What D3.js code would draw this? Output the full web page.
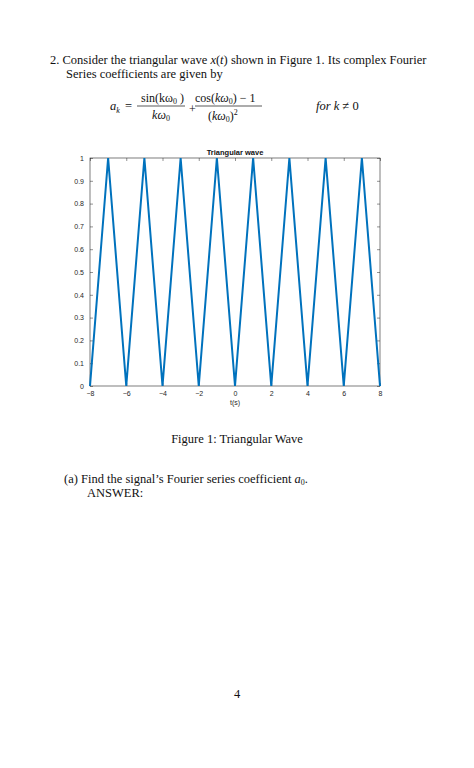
<!DOCTYPE html>
<html><head><meta charset="utf-8">
<script src="https://cdn.jsdelivr.net/npm/d3@7"></script>
<style>
body{margin:0;background:#fff;}
svg text{font-family:"Liberation Serif",serif;}
.ax text{font-family:"Liberation Sans",Arial,sans-serif;font-size:7px;fill:#262626;}
</style></head><body>
<svg id="c" width="474" height="768"></svg>
<script>
// triangular wave vertices: t and x(t)
var tVals = [-8,-7,-6,-5,-4,-3,-2,-1,0,1,2,3,4,5,6,7,8];
var xVals = [0,1,0,1,0,1,0,1,0,1,0,1,0,1,0,1,0];
var xTicks = [-8,-6,-4,-2,0,2,4,6,8];
var yTicks = [0,0.1,0.2,0.3,0.4,0.5,0.6,0.7,0.8,0.9,1];

var svg = d3.select("#c");
var L = 90, R = 380, T = 158, B = 386;
var x = d3.scaleLinear().domain([-8,8]).range([L,R]);
var y = d3.scaleLinear().domain([0,1]).range([B,T]);

function txt(xp, yp, s, size, anchor, style){
  var t = svg.append("text").attr("x",xp).attr("y",yp).attr("font-size",size||12.5)
    .attr("text-anchor",anchor||"start").attr("fill","#111");
  if(style) t.attr("font-style",style);
  return t.text(s);
}
// heading text
var t1 = txt(50,64,"2.  Consider the triangular wave ");
t1.append("tspan").attr("font-style","italic").text("x");
t1.append("tspan").text("(");
t1.append("tspan").attr("font-style","italic").text("t");
t1.append("tspan").text(") shown in Figure 1. Its complex Fourier");
txt(66,78,"Series coefficients are given by");

// formula
var a = txt(110,110,"a",12.5,"start","italic");
a.append("tspan").attr("font-size",8).attr("dy",3).text("k");
txt(125,110,"=",12.5);
txt(159,102,"sin(kω",12,"middle").append("tspan").attr("font-size",8).attr("dy",2).text("0");
svg.selectAll("text").filter(function(){return false;});
txt(180,102,")",12);
svg.append("line").attr("x1",137).attr("x2",185).attr("y1",106).attr("y2",106).attr("stroke","#111").attr("stroke-width",0.7);
var d1 = txt(161,119,"kω",12,"middle","italic"); d1.append("tspan").attr("font-size",8).attr("font-style","normal").attr("dy",2).text("0");
txt(189,113,"+",12);
var n2 = txt(195,102,"cos(",12); n2.append("tspan").attr("font-style","italic").text("kω");
n2.append("tspan").attr("font-size",8).attr("dy",2).text("0");
n2.append("tspan").attr("dy",-2).text(") − 1");
svg.append("line").attr("x1",195).attr("x2",262).attr("y1",106).attr("y2",106).attr("stroke","#111").attr("stroke-width",0.7);
var d2 = txt(208,120,"(",12); d2.append("tspan").attr("font-style","italic").text("kω");
d2.append("tspan").attr("font-size",8).attr("dy",2).text("0");
d2.append("tspan").attr("dy",-2).text(")");
d2.append("tspan").attr("font-size",8).attr("dy",-5).text("2");
var f = txt(316,110,"for   k",12.5,"start","italic");
f.append("tspan").attr("font-style","normal").text(" ≠ 0");

// chart
svg.append("rect").attr("x",L).attr("y",T).attr("width",R-L).attr("height",B-T)
  .attr("fill","#fff").attr("stroke","#262626").attr("stroke-width",0.6);
var gx = svg.append("g").attr("class","ax").attr("transform","translate(0,"+B+")")
  .call(d3.axisBottom(x).tickValues(xTicks).tickSize(-3).tickPadding(5).tickFormat(d3.format("d")));
var gxt = svg.append("g").attr("class","ax").attr("transform","translate(0,"+T+")")
  .call(d3.axisTop(x).tickValues(xTicks).tickSize(-3).tickFormat(""));
var gy = svg.append("g").attr("class","ax").attr("transform","translate("+L+",0)")
  .call(d3.axisLeft(y).tickValues(yTicks).tickSize(-3).tickPadding(6).tickFormat(function(d){return d===0||d===1?d:d.toFixed(1);}));
var gyr = svg.append("g").attr("class","ax").attr("transform","translate("+R+",0)")
  .call(d3.axisRight(y).tickValues(yTicks).tickSize(-3).tickFormat(""));
[gx,gxt,gy,gyr].forEach(function(g){g.select(".domain").remove();g.selectAll("line").attr("stroke","#262626").attr("stroke-width",0.5);});

var line = d3.line().x(function(d,i){return x(tVals[i]);}).y(function(d){return y(d);});
svg.append("path").datum(xVals).attr("d",line).attr("fill","none")
  .attr("stroke","#0072BD").attr("stroke-width",2).attr("stroke-linejoin","miter");

svg.append("text").attr("x",(L+R)/2).attr("y",T-3).attr("text-anchor","middle")
  .style("font-family","Liberation Sans,Arial,sans-serif").attr("font-size",7.5).attr("font-weight","bold").attr("fill","#111").text("Triangular wave");
svg.append("text").attr("x",(L+R)/2).attr("y",405).attr("text-anchor","middle")
  .style("font-family","Liberation Sans,Arial,sans-serif").attr("font-size",7).attr("fill","#262626").text("t(s)");

txt(237,443,"Figure 1:  Triangular Wave",12.5,"middle");
var q = txt(64,483,"(a)  Find the signal’s Fourier series coefficient ");
q.append("tspan").attr("font-style","italic").text("a");
q.append("tspan").attr("font-size",8).attr("dy",2).text("0");
q.append("tspan").attr("dy",-2).text(".");
txt(87,497,"ANSWER:");
txt(237,698,"4",12.5,"middle");
</script></body></html>
